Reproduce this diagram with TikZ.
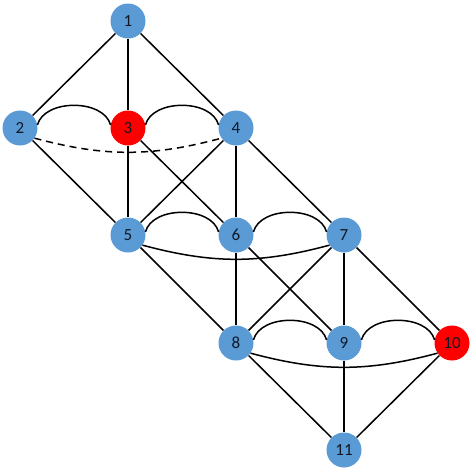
\documentclass[tikz,border=0pt]{standalone}
\usepackage{fontspec}
\setmainfont{Carlito}
\definecolor{nodeblue}{HTML}{5B9BD5}
\definecolor{nodered}{HTML}{FF0000}
\definecolor{labelc}{HTML}{101828}
\begin{document}
\begin{tikzpicture}[x=1pt,y=-1pt,
  vtx/.style={circle,fill=nodeblue,minimum size=35pt,inner sep=0pt,font=\fontsize{17}{17}\selectfont,text=labelc},
  hot/.style={vtx,fill=nodered},
  edge/.style={line width=1.5pt,black},
  dashedge/.style={edge,dash pattern=on 7pt off 5pt}]
\useasboundingbox (0,0) rectangle (474,475);
\node[vtx] (n1) at (128,21) {1};
\node[vtx] (n2) at (20,128) {2};
\node[hot] (n3) at (128,128) {3};
\node[vtx] (n4) at (236,128) {4};
\node[vtx] (n5) at (128,235) {5};
\node[vtx] (n6) at (236,235) {6};
\node[vtx] (n7) at (344,235) {7};
\node[vtx] (n8) at (236,343) {8};
\node[vtx] (n9) at (344,343) {9};
\node[hot] (n10) at (452,343) {10};
\node[vtx] (n11) at (344,450) {11};
% straight edges
\draw[edge] (n1) -- (n2);
\draw[edge] (n1) -- (n3);
\draw[edge] (n1) -- (n4);
\draw[edge] (n2) -- (n5);
\draw[edge] (n3) -- (n5);
\draw[edge] (n3) -- (n6);
\draw[edge] (n4) -- (n5);
\draw[edge] (n4) -- (n6);
\draw[edge] (n4) -- (n7);
\draw[edge] (n5) -- (n8);
\draw[edge] (n6) -- (n8);
\draw[edge] (n6) -- (n9);
\draw[edge] (n7) -- (n8);
\draw[edge] (n7) -- (n9);
\draw[edge] (n7) -- (n10);
\draw[edge] (n8) -- (n11);
\draw[edge] (n9) -- (n11);
\draw[edge] (n10) -- (n11);
% upper arcs
\draw[edge] (n2.10) to[out=75,in=105,looseness=0.95] (n3.170);
\draw[edge] (n3.10) to[out=75,in=105,looseness=0.95] (n4.170);
\draw[edge] (n5.10) to[out=75,in=105,looseness=0.95] (n6.170);
\draw[edge] (n6.10) to[out=75,in=105,looseness=0.95] (n7.170);
\draw[edge] (n8.10) to[out=75,in=105,looseness=0.95] (n9.170);
\draw[edge] (n9.10) to[out=75,in=105,looseness=0.95] (n10.170);
% lower arcs
\draw[dashedge] (n2.-35) to[out=-15,in=195] (n4.-145);
\draw[edge] (n5.-35) to[out=-15,in=195] (n7.-145);
\draw[edge] (n8.-35) to[out=-15,in=195] (n10.-145);
\end{tikzpicture}
\end{document}
